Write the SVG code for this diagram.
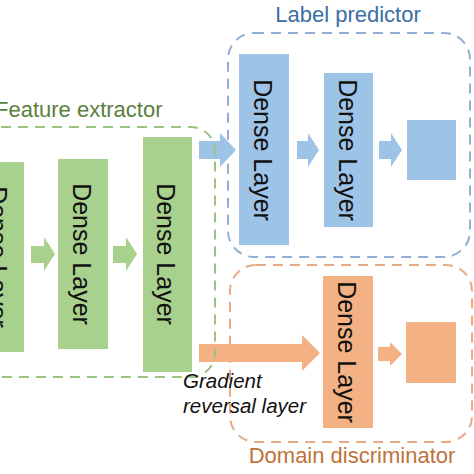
<svg xmlns="http://www.w3.org/2000/svg" width="474" height="474" viewBox="0 0 474 474">
<style>
  .lbl { font-family: "Liberation Sans", Arial, sans-serif; font-size: 22px; }
  .dl { font-family: "Liberation Sans", Arial, sans-serif; font-size: 25px; fill: #111; text-anchor: middle; }
  .grn { fill: #a9d18e; }
  .blu { fill: #9dc3e6; }
  .org { fill: #f4b183; }
  .box { fill: none; stroke-width: 2; stroke-dasharray: 10 7; }
</style>
<rect width="474" height="474" fill="#ffffff"/>

<g id="label-predictor">
  <rect class="box" x="228" y="33" width="242" height="224" rx="26" stroke="#90afd3"/>
  <text class="lbl" x="348" y="22" text-anchor="middle" fill="#3a6ea5">Label predictor</text>
</g>
<g id="domain-discriminator">
  <rect class="box" x="230" y="265" width="242" height="177" rx="26" stroke="#e8ab85"/>
  <text class="lbl" x="352" y="463" text-anchor="middle" fill="#c0723a">Domain discriminator</text>
</g>

<g id="fe-dense1">
  <rect class="grn" x="-25" y="162" width="49" height="190"/>
  <text class="dl" transform="translate(-11,257) rotate(90)">Dense Layer</text>
</g>
<g id="fe-dense2">
  <rect class="grn" x="58" y="159" width="50" height="190"/>
  <text class="dl" transform="translate(73,254) rotate(90)">Dense Layer</text>
</g>
<g id="fe-dense3">
  <rect class="grn" x="143" y="137" width="49" height="235"/>
  <text class="dl" transform="translate(157,254) rotate(90)">Dense Layer</text>
</g>

<g id="lp-dense1">
  <rect class="blu" x="239" y="54" width="50" height="191"/>
  <text class="dl" transform="translate(254,150) rotate(90)">Dense Layer</text>
</g>
<g id="lp-dense2">
  <rect class="blu" x="324" y="73" width="49" height="154"/>
  <text class="dl" transform="translate(339,150) rotate(90)">Dense Layer</text>
</g>
<g id="lp-output">
  <rect class="blu" x="407" y="120" width="49" height="60"/>
</g>

<g id="dd-dense1">
  <rect class="org" x="323" y="276" width="50" height="152"/>
  <text class="dl" transform="translate(338,352) rotate(90)">Dense Layer</text>
</g>
<g id="dd-output">
  <rect class="org" x="406" y="322" width="50" height="61"/>
</g>

<g id="connectors">
  <polygon class="grn" points="31,246 44,246 44,237 55,254 44,271 44,263 31,263"/>
  <polygon class="grn" points="113,246 126,246 126,237 137,254 126,271 126,263 113,263"/>
  <polygon class="blu" points="199,141 220,141 220,133 236,150 220,167 220,159 199,159"/>
  <polygon class="blu" points="297,141 308,141 308,133 319,150 308,167 308,159 297,159"/>
  <polygon class="blu" points="379,141 391,141 391,133 402,150 391,167 391,159 379,159"/>
  <polygon class="org" points="199,344 302,344 302,335 320,353 302,371 302,362 199,362"/>
  <polygon class="org" points="378,347 390,347 390,342 402,354 390,366 390,361 378,361"/>
</g>

<g id="feature-extractor">
  <rect class="box" x="-40" y="127" width="255" height="250" rx="24" stroke="#9cc285"/>
  <text class="lbl" x="-5" y="117" font-size="21" fill="#5a803e">Feature extractor</text>
</g>

<g id="grl-label">
  <text font-family="Liberation Sans, Arial, sans-serif" font-size="20.5" font-style="italic" fill="#111">
    <tspan x="183" y="388">Gradient</tspan>
    <tspan x="183" y="413">reversal layer</tspan>
  </text>
</g>
</svg>
